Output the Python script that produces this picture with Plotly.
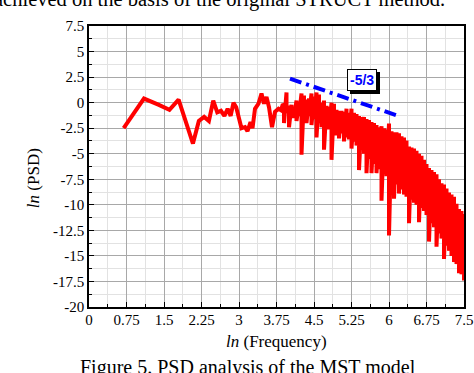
import plotly.graph_objects as go

# ---- data ----
# low-frequency part: individual points (ln frequency, ln PSD)
sparse_ln_freq = [0.693, 1.099, 1.386, 1.609, 1.792, 1.946, 2.079, 2.197, 2.303, 2.398,
                  2.485, 2.565, 2.639, 2.708, 2.773, 2.833, 2.890, 2.944, 3.05, 3.12,
                  3.17, 3.23, 3.27, 3.32, 3.39, 3.45, 3.50, 3.55, 3.60, 3.66,
                  3.72, 3.79, 3.84, 3.87]
sparse_ln_psd = [-2.5, 0.4, -0.2, -0.7, 0.3, -1.9, -4.0, -1.8, -1.4, -1.8,
                 0.2, -0.95, -0.8, -1.3, -0.6, -1.3, 0.0, -0.45, -2.5, -2.4,
                 -2.8, -1.9, -2.5, -0.6, -0.1, 0.9, -0.1, 0.55, -0.45, -2.4,
                 -0.9, -0.6, -0.75, -0.25]

# high-frequency part: dense oscillation, read as upper / lower extent per step
dense_ln_freq = [3.90, 3.95, 4.00, 4.05, 4.10, 4.15, 4.20, 4.25, 4.30, 4.35,
                 4.40, 4.45, 4.50, 4.55, 4.60, 4.65, 4.70, 4.75, 4.80, 4.85,
                 4.90, 4.95, 5.00, 5.05, 5.10, 5.15, 5.20, 5.25, 5.30, 5.35,
                 5.40, 5.45, 5.50, 5.55, 5.60, 5.65, 5.70, 5.75, 5.80, 5.85,
                 5.90, 5.95, 6.00, 6.05, 6.10, 6.15, 6.20, 6.25, 6.30, 6.35,
                 6.40, 6.45, 6.50, 6.55, 6.60, 6.65, 6.70, 6.75, 6.80, 6.85,
                 6.90, 6.95, 7.00, 7.05, 7.10, 7.15, 7.20, 7.25, 7.30, 7.35,
                 7.40, 7.45, 7.50]
dense_top = [-0.2, 1.0, -0.3, -0.2, -0.4, 0.2, -0.1, 0.9, 0.7, 0.3,
             0.4, 0.9, 0.6, 1.0, 0.8, 0.0, 0.2, -0.3, -0.4, 0.0,
             -0.1, -0.7, -0.8, -0.8, -0.9, -0.6, -1.0, -0.6, -1.0, -1.1,
             -1.3, -1.4, -1.4, -1.6, -1.7, -1.9, -2.0, -2.2, -2.4, -2.3,
             -2.5, -2.6, -2.05, -2.8, -2.9, -2.9, -3.0, -3.3, -3.4, -3.7,
             -4.3, -4.4, -4.5, -4.7, -5.0, -5.2, -5.6, -6.0, -6.4, -6.6,
             -6.8, -7.0, -7.5, -7.9, -8.0, -8.4, -8.8, -9.0, -9.2, -9.9,
             -10.4, -10.6, -10.9]
dense_bottom = [-2.0, -1.0, -2.4, -1.2, -1.5, -1.8, -1.3, -5.1, -1.6, -2.0,
                -1.3, -2.2, -1.6, -3.4, -2.0, -2.4, -4.6, -2.0, -2.6, -5.6,
                -3.0, -3.2, -3.5, -3.0, -3.8, -3.4, -3.6, -4.5, -3.8, -4.2,
                -6.6, -4.6, -5.0, -6.9, -5.5, -6.9, -6.0, -6.9, -6.5, -9.6,
                -7.0, -7.2, -13.0, -7.6, -9.4, -8.0, -8.9, -8.5, -9.0, -9.2,
                -11.8, -9.5, -9.8, -10.0, -11.7, -10.3, -10.6, -11.0, -13.6, -11.8,
                -12.2, -14.1, -12.8, -13.3, -15.3, -14.0, -14.5, -15.0, -15.6, -15.8,
                -16.7, -16.8, -17.4]

# -5/3 reference slope line end points
slope_ln_freq = [4.02, 6.15]
slope_ln_psd = [2.35, -1.24]

x_tick_vals = [0, 0.75, 1.5, 2.25, 3, 3.75, 4.5, 5.25, 6, 6.75, 7.5]
x_tick_text = ["0", "0.75", "1.5", "2.25", "3", "3.75", "4.5", "5.25", "6", "6.75", "7.5"]
y_tick_vals = [7.5, 5, 2.5, 0, -2.5, -5, -7.5, -10, -12.5, -15, -17.5, -20]
y_tick_text = ["7.5", "5", "2.5", "0", "-2.5", "-5", "-7.5", "-10", "-12.5", "-15", "-17.5", "-20"]

# build the PSD trace: sparse points then a vertical-stroke zigzag over the dense part
psd_x = list(sparse_ln_freq)
psd_y = list(sparse_ln_psd)
for xv, t, b in zip(dense_ln_freq, dense_top, dense_bottom):
    psd_x += [xv, xv]
    psd_y += [t, b]

SERIF = "Liberation Serif"

fig = go.Figure()
fig.add_trace(go.Scatter(x=psd_x, y=psd_y, mode="lines",
                         line=dict(color="#ff0000", width=4), hoverinfo="skip",
                         showlegend=False))
fig.add_trace(go.Scatter(x=slope_ln_freq, y=slope_ln_psd, mode="lines",
                         line=dict(color="#0000ff", width=4, dash="12px,5px,3px,5px"),
                         showlegend=False))

axis_common = dict(showline=True, linecolor="black", linewidth=1.5, mirror=True,
                   ticks="inside", ticklen=5, tickwidth=1.2, tickcolor="black",
                   showgrid=True, gridcolor="#a8a8a8", gridwidth=1, zeroline=False,
                   automargin=False,
                   tickfont=dict(family=SERIF, size=15, color="black"))

fig.update_xaxes(range=[0, 7.5], tickmode="array", tickvals=x_tick_vals, ticktext=x_tick_text,
                 ticklabelstandoff=-2,
                 minor=dict(dtick=0.375, tick0=0, ticks="inside", ticklen=3, tickcolor="black",
                            showgrid=True, gridcolor="#e2e2e2", gridwidth=1),
                 **axis_common)
fig.update_yaxes(range=[-20, 7.5], tickmode="array", tickvals=y_tick_vals, ticktext=y_tick_text,
                 minor=dict(dtick=1.25, tick0=0, ticks="inside", ticklen=3, tickcolor="black",
                            showgrid=True, gridcolor="#e2e2e2", gridwidth=1),
                 **axis_common)

annotations = [
    # shadow of the -5/3 label
    dict(x=5.45, y=2.2, xref="x", yref="y", text="<b>-5/3</b>", showarrow=False,
         font=dict(family="Liberation Sans", size=14, color="black"),
         bgcolor="black", bordercolor="black", borderwidth=1, borderpad=2,
         xshift=3, yshift=-3),
    dict(x=5.45, y=2.2, xref="x", yref="y", text="<b>-5/3</b>", showarrow=False,
         font=dict(family="Liberation Sans", size=14, color="#0000ff"),
         bgcolor="white", bordercolor="black", borderwidth=1, borderpad=2),
    # axis titles
    dict(x=0.499, y=-0.121, xref="paper", yref="paper", xanchor="center", yanchor="middle",
         text="<i>ln</i> (Frequency)",
         showarrow=False, font=dict(family=SERIF, size=17, color="black")),
    dict(x=-0.149, y=0.459, xref="paper", yref="paper", xanchor="center", yanchor="middle",
         text="<i>ln</i> (PSD)", textangle=-90,
         showarrow=False, font=dict(family=SERIF, size=17, color="black")),
    # surrounding page text
    dict(x=0.955, y=1.093, xref="paper", yref="paper", xanchor="right", yanchor="middle",
         text="achieved on the basis of the original STRUCT method.", showarrow=False,
         font=dict(family=SERIF, size=20.5, color="black")),
    dict(x=0.425, y=-0.214, xref="paper", yref="paper", xanchor="center", yanchor="middle",
         text="Figure 5. PSD analysis of the MST model", showarrow=False,
         font=dict(family=SERIF, size=20, color="black")),
]

fig.update_layout(width=474, height=373, margin=dict(l=89, r=10, t=26, b=66),
                  paper_bgcolor="white", plot_bgcolor="white",
                  font=dict(family=SERIF, size=15, color="black"),
                  annotations=annotations, showlegend=False)

fig.write_html("out.html", config={"displayModeBar": False},
               post_script="document.body.style.margin='0';document.body.style.overflow='hidden';")
